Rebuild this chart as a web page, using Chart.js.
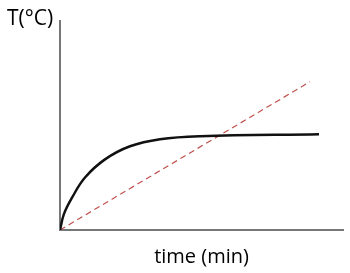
<!DOCTYPE html>
<html>
<head>
<meta charset="UTF-8">
<style>
  html, body { margin: 0; padding: 0; background: #fff; }
  #wrap { width: 350px; height: 273px; }
</style>
<script src="https://cdn.jsdelivr.net/npm/chart.js"></script>
</head>
<body>
<div id="wrap"><canvas id="c"></canvas></div>
<script>
// temperature curve (heats up then levels off)
const tempX = [0, 4, 12, 25, 45, 70, 100, 140, 259];
const tempY = [0, 16, 32, 52, 70, 83, 90, 93, 95];
// reference dashed line
const refX = [0, 250];
const refY = [0, 147];

const labelY = "T(°C)";
const labelX = "time (min)";

const toPts = (xs, ys) => xs.map((x, i) => ({ x: x, y: ys[i] }));

new Chart(document.getElementById("c"), {
    type: "scatter",
    data: {
        datasets: [
            {
                data: toPts(tempX, tempY),
                showLine: true,
                borderColor: "#111",
                borderWidth: 2.5,
                pointRadius: 0,
                tension: 0.4
            },
            {
                data: toPts(refX, refY),
                showLine: true,
                borderColor: "#c0504d",
                borderWidth: 1.2,
                borderDash: [6, 4],
                pointRadius: 0
            }
        ]
    },
    options: {
        responsive: true,
        maintainAspectRatio: false,
        animation: false,
        layout: { padding: { left: 7, right: 7, top: 0, bottom: 0 } },
        plugins: {
            legend: { display: false },
            tooltip: { enabled: false },
            title: {
                display: true,
                text: labelY,
                align: "start",
                color: "#000",
                font: { family: "Open Sans", size: 21, weight: "normal" },
                padding: { top: 6, bottom: -10 }
            }
        },
        scales: {
            x: {
                type: "linear",
                min: 0,
                max: 283,
                grid: { display: false, drawTicks: false },
                border: { display: true, color: "#777", width: 2 },
                ticks: { display: false },
                title: {
                    display: true,
                    text: labelX,
                    color: "#000",
                    font: { family: "Open Sans", size: 20 },
                    padding: { top: 6 }
                },
                afterFit: s => { s.height = 43; }
            },
            y: {
                min: 0,
                max: 207,
                grid: { display: false, drawTicks: false },
                border: { display: true, color: "#777", width: 2 },
                ticks: { display: false },
                afterFit: s => { s.width = 53; }
            }
        }
    }
});
</script>
</body>
</html>
